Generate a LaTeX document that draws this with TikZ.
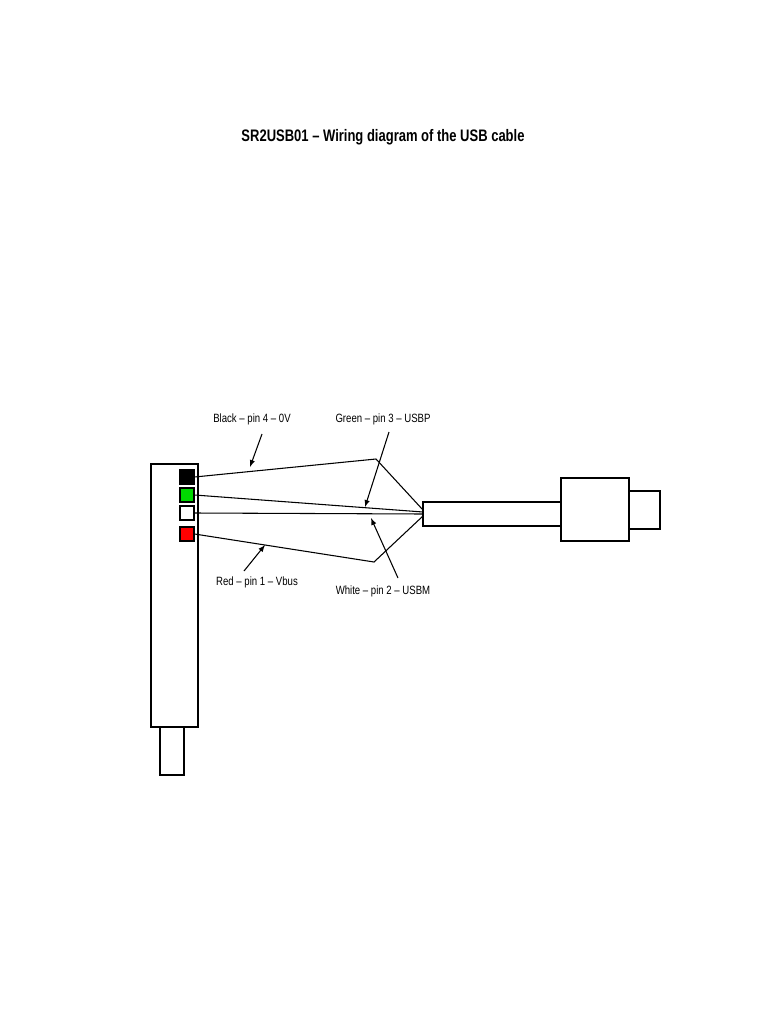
\documentclass[tikz,border=0pt]{standalone}
\usepackage{fontspec}
\setmainfont{Liberation Sans}
\begin{document}
\begin{tikzpicture}[x=0.75pt,y=-0.75pt,line width=0.8pt,
  lbl/.style={inner sep=0,font=\fontsize{9}{10}\selectfont,xscale=0.8,transform shape},
  pin/.style={draw,minimum width=10.5pt,minimum height=10.5pt,inner sep=0},
  ar/.style={-latex}]
\useasboundingbox (0,0) rectangle (768,1024);
\node[inner sep=0,font=\bfseries\fontsize{12.5}{14}\selectfont,xscale=0.78,transform shape] (title) at (383,137) {SR2USB01 – Wiring diagram of the USB cable};
\draw (151,464) rectangle (198,727);
\draw (160,727) rectangle (184,775);
\node[pin,fill=black] (pb) at (187,477) {};
\node[pin,fill=green!85!black] (pg) at (187,495) {};
\node[pin,fill=white] (pw) at (187,513) {};
\node[pin,fill=red] (pr) at (187,534) {};
\draw (423,502) rectangle (561,526);
\draw (561,478) rectangle (629,541);
\draw (629,491) rectangle (660,529);
\coordinate (kb) at (376,459);
\coordinate (kr) at (374,562);
\draw (pb.east) -- (kb) -- (423,510);
\draw (pg.east) -- (423,512);
\draw (pw.east) -- (423,514);
\draw (pr.east) -- (kr) -- (423,516);
\node[lbl] (lb) at (252,419) {Black – pin 4 – 0V};
\node[lbl] (lg) at (383,419) {Green – pin 3 – USBP};
\node[lbl] (lr) at (257,582) {Red – pin 1 – Vbus};
\node[lbl] (lw) at (383,591) {White – pin 2 – USBM};
\coordinate (ab) at (250,467);
\coordinate (ag) at (365,507);
\coordinate (ar1) at (265,545);
\coordinate (aw) at (371,518);
\draw[ar] (262,434) -- (ab);
\draw[ar] (389,432) -- (ag);
\draw[ar] (244,571) -- (ar1);
\draw[ar] (398,578) -- (aw);
\end{tikzpicture}
\end{document}
